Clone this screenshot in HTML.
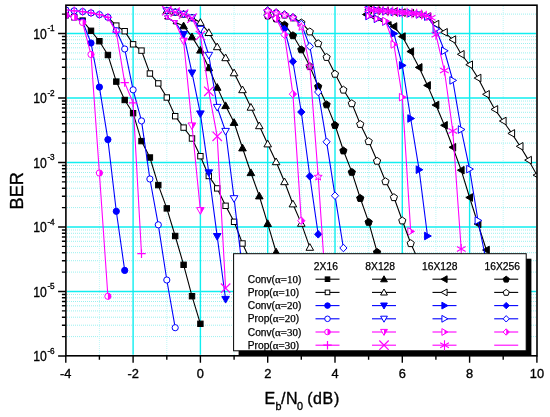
<!DOCTYPE html>
<html><head><meta charset="utf-8"><title>BER vs Eb/N0</title>
<style>html,body{margin:0;padding:0;background:#fff;width:550px;height:417px;overflow:hidden;position:relative}
svg text{stroke:#000;stroke-width:0.35px}
svg text.lg{stroke-width:0.25px}
svg{filter:blur(0.3px)}</style>
</head><body>
<svg width="550" height="417" viewBox="0 0 550 417" style="position:absolute;left:0;top:0">
<defs><clipPath id="rh"><rect x="0" y="-6" width="6" height="12"/></clipPath><clipPath id="plot"><rect x="65.9" y="5.2" width="471.1" height="350.6"/></clipPath></defs>
<rect width="550" height="417" fill="#fff"/>
<path d="M67 336.6H537M67 325.2H537M67 317.2H537M67 310.9H537M67 305.8H537M67 301.5H537M67 297.8H537M67 294.5H537M67 272.1H537M67 260.7H537M67 252.7H537M67 246.4H537M67 241.3H537M67 237H537M67 233.3H537M67 230H537M67 207.6H537M67 196.2H537M67 188.2H537M67 181.9H537M67 176.8H537M67 172.5H537M67 168.8H537M67 165.5H537M67 143.1H537M67 131.7H537M67 123.7H537M67 117.4H537M67 112.3H537M67 108H537M67 104.3H537M67 101H537M67 78.6H537M67 67.2H537M67 59.2H537M67 52.9H537M67 47.8H537M67 43.5H537M67 39.8H537M67 36.5H537M67 14.1H537" stroke="#9cf0f0" stroke-width="1" stroke-dasharray="1 1" fill="none"/>
<path d="M99.4 6V355M166.8 6V355M234.1 6V355M301.3 6V355M368.6 6V355M435.9 6V355M503.2 6V355" stroke="#c0f6f6" stroke-width="1" stroke-dasharray="1 1" fill="none"/>
<path d="M66.9 291.5H536M66.9 227H536M66.9 162.5H536M66.9 98H536M66.9 33.5H536M133.1 6.2V354.8M200.4 6.2V354.8M267.7 6.2V354.8M335 6.2V354.8M402.3 6.2V354.8M469.6 6.2V354.8" stroke="#10eef0" stroke-width="1.4" fill="none"/>
<g clip-path="url(#plot)" fill="none">
<path d="M65.8 15.2 L74.2 17.2 L82.6 20.6 L91 30.8 L99.4 41.2 L107.9 55 L116.3 81.6 L124.7 100 L133.1 113.2 L141.5 141.1 L149.9 157.5 L158.3 185.1 L166.8 208.4 L175.2 236 L183.6 264.8 L192 296.2 L200.4 323.8" stroke="#000" stroke-width="1.1" fill="none"/>
<rect x="63.1" y="12.5" width="5.4" height="5.4" fill="#000" stroke="#000" stroke-width="1"/>
<rect x="71.5" y="14.5" width="5.4" height="5.4" fill="#000" stroke="#000" stroke-width="1"/>
<rect x="79.9" y="17.9" width="5.4" height="5.4" fill="#000" stroke="#000" stroke-width="1"/>
<rect x="88.3" y="28.1" width="5.4" height="5.4" fill="#000" stroke="#000" stroke-width="1"/>
<rect x="96.7" y="38.5" width="5.4" height="5.4" fill="#000" stroke="#000" stroke-width="1"/>
<rect x="105.2" y="52.3" width="5.4" height="5.4" fill="#000" stroke="#000" stroke-width="1"/>
<rect x="113.6" y="78.9" width="5.4" height="5.4" fill="#000" stroke="#000" stroke-width="1"/>
<rect x="122" y="97.3" width="5.4" height="5.4" fill="#000" stroke="#000" stroke-width="1"/>
<rect x="130.4" y="110.5" width="5.4" height="5.4" fill="#000" stroke="#000" stroke-width="1"/>
<rect x="138.8" y="138.4" width="5.4" height="5.4" fill="#000" stroke="#000" stroke-width="1"/>
<rect x="147.2" y="154.8" width="5.4" height="5.4" fill="#000" stroke="#000" stroke-width="1"/>
<rect x="155.6" y="182.4" width="5.4" height="5.4" fill="#000" stroke="#000" stroke-width="1"/>
<rect x="164.1" y="205.7" width="5.4" height="5.4" fill="#000" stroke="#000" stroke-width="1"/>
<rect x="172.5" y="233.3" width="5.4" height="5.4" fill="#000" stroke="#000" stroke-width="1"/>
<rect x="180.9" y="262.1" width="5.4" height="5.4" fill="#000" stroke="#000" stroke-width="1"/>
<rect x="189.3" y="293.5" width="5.4" height="5.4" fill="#000" stroke="#000" stroke-width="1"/>
<rect x="197.7" y="321.1" width="5.4" height="5.4" fill="#000" stroke="#000" stroke-width="1"/>
<path d="M65.8 10 L74.2 10.8 L82.6 11.6 L91 12.9 L99.4 14.6 L107.9 17.3 L116.3 25.6 L124.7 31.2 L133.1 44.3 L141.5 50.6 L149.9 73.5 L158.3 83.4 L166.8 97.5 L175.2 116.2 L183.6 127.6 L192 138.5 L200.4 156.2 L208.8 176 L217.2 188.4 L225.6 205.8 L234.1 221.8 L242.5 243.5 L250.9 262 L259.3 280" stroke="#000" stroke-width="1.1" fill="none"/>
<rect x="63.8" y="8" width="4.1" height="4.1" fill="#fff" stroke="#000" stroke-width="1"/>
<rect x="72.2" y="8.8" width="4.1" height="4.1" fill="#fff" stroke="#000" stroke-width="1"/>
<rect x="80.6" y="9.6" width="4.1" height="4.1" fill="#fff" stroke="#000" stroke-width="1"/>
<rect x="89" y="10.9" width="4.1" height="4.1" fill="#fff" stroke="#000" stroke-width="1"/>
<rect x="97.4" y="12.6" width="4.1" height="4.1" fill="#fff" stroke="#000" stroke-width="1"/>
<rect x="105.8" y="15.3" width="4.1" height="4.1" fill="#fff" stroke="#000" stroke-width="1"/>
<rect x="113.6" y="22.9" width="5.4" height="5.4" fill="#fff" stroke="#000" stroke-width="1"/>
<rect x="122" y="28.5" width="5.4" height="5.4" fill="#fff" stroke="#000" stroke-width="1"/>
<rect x="130.4" y="41.6" width="5.4" height="5.4" fill="#fff" stroke="#000" stroke-width="1"/>
<rect x="138.8" y="47.9" width="5.4" height="5.4" fill="#fff" stroke="#000" stroke-width="1"/>
<rect x="147.2" y="70.8" width="5.4" height="5.4" fill="#fff" stroke="#000" stroke-width="1"/>
<rect x="155.6" y="80.7" width="5.4" height="5.4" fill="#fff" stroke="#000" stroke-width="1"/>
<rect x="164.1" y="94.8" width="5.4" height="5.4" fill="#fff" stroke="#000" stroke-width="1"/>
<rect x="172.5" y="113.5" width="5.4" height="5.4" fill="#fff" stroke="#000" stroke-width="1"/>
<rect x="180.9" y="124.9" width="5.4" height="5.4" fill="#fff" stroke="#000" stroke-width="1"/>
<rect x="189.3" y="135.8" width="5.4" height="5.4" fill="#fff" stroke="#000" stroke-width="1"/>
<rect x="197.7" y="153.5" width="5.4" height="5.4" fill="#fff" stroke="#000" stroke-width="1"/>
<rect x="206.1" y="173.3" width="5.4" height="5.4" fill="#fff" stroke="#000" stroke-width="1"/>
<rect x="214.5" y="185.7" width="5.4" height="5.4" fill="#fff" stroke="#000" stroke-width="1"/>
<rect x="222.9" y="203.1" width="5.4" height="5.4" fill="#fff" stroke="#000" stroke-width="1"/>
<rect x="231.4" y="219.1" width="5.4" height="5.4" fill="#fff" stroke="#000" stroke-width="1"/>
<rect x="239.8" y="240.8" width="5.4" height="5.4" fill="#fff" stroke="#000" stroke-width="1"/>
<rect x="248.2" y="259.3" width="5.4" height="5.4" fill="#fff" stroke="#000" stroke-width="1"/>
<rect x="256.6" y="277.3" width="5.4" height="5.4" fill="#fff" stroke="#000" stroke-width="1"/>
<path d="M65.8 15.2 L74.2 17.2 L82.6 21.5 L91 43 L99.4 87.1 L107.9 139.6 L116.3 211.3 L124.7 270.4" stroke="#0000ff" stroke-width="1.1" fill="none"/>
<circle cx="65.8" cy="15.2" r="3.1" fill="#0000ff" stroke="#0000ff"/>
<circle cx="74.2" cy="17.2" r="3.1" fill="#0000ff" stroke="#0000ff"/>
<circle cx="82.6" cy="21.5" r="3.1" fill="#0000ff" stroke="#0000ff"/>
<circle cx="91" cy="43" r="3.1" fill="#0000ff" stroke="#0000ff"/>
<circle cx="99.4" cy="87.1" r="3.1" fill="#0000ff" stroke="#0000ff"/>
<circle cx="107.9" cy="139.6" r="3.1" fill="#0000ff" stroke="#0000ff"/>
<circle cx="116.3" cy="211.3" r="3.1" fill="#0000ff" stroke="#0000ff"/>
<circle cx="124.7" cy="270.4" r="3.1" fill="#0000ff" stroke="#0000ff"/>
<path d="M65.8 10 L74.2 10.8 L82.6 11.6 L91 12.9 L99.4 14.6 L107.9 17.3 L116.3 30.6 L124.7 49 L133.1 89.8 L141.5 120.9 L149.9 179 L158.3 224.8 L166.8 280 L175.2 327.7" stroke="#0000ff" stroke-width="1.1" fill="none"/>
<circle cx="65.8" cy="10" r="3.1" fill="#fff" stroke="#0000ff"/>
<circle cx="74.2" cy="10.8" r="3.1" fill="#fff" stroke="#0000ff"/>
<circle cx="82.6" cy="11.6" r="3.1" fill="#fff" stroke="#0000ff"/>
<circle cx="91" cy="12.9" r="3.1" fill="#fff" stroke="#0000ff"/>
<circle cx="99.4" cy="14.6" r="3.1" fill="#fff" stroke="#0000ff"/>
<circle cx="107.9" cy="17.3" r="3.1" fill="#fff" stroke="#0000ff"/>
<circle cx="116.3" cy="30.6" r="3.1" fill="#fff" stroke="#0000ff"/>
<circle cx="124.7" cy="49" r="3.1" fill="#fff" stroke="#0000ff"/>
<circle cx="133.1" cy="89.8" r="3.1" fill="#fff" stroke="#0000ff"/>
<circle cx="141.5" cy="120.9" r="3.1" fill="#fff" stroke="#0000ff"/>
<circle cx="149.9" cy="179" r="3.1" fill="#fff" stroke="#0000ff"/>
<circle cx="158.3" cy="224.8" r="3.1" fill="#fff" stroke="#0000ff"/>
<circle cx="166.8" cy="280" r="3.1" fill="#fff" stroke="#0000ff"/>
<circle cx="175.2" cy="327.7" r="3.1" fill="#fff" stroke="#0000ff"/>
<path d="M65.8 15.2 L74.2 17.3 L82.6 22.5 L91 54.5 L99.4 173 L107.9 296.3" stroke="#ff00ff" stroke-width="1.1" fill="none"/>
<circle cx="65.8" cy="15.2" r="3.1" fill="#fff" stroke="#ff00ff"/>
<path d="M65.8 12.1A3.1 3.1 0 0 1 65.8 18.3Z" fill="#ff00ff"/>
<circle cx="74.2" cy="17.3" r="3.1" fill="#fff" stroke="#ff00ff"/>
<path d="M74.2 14.2A3.1 3.1 0 0 1 74.2 20.4Z" fill="#ff00ff"/>
<circle cx="82.6" cy="22.5" r="3.1" fill="#fff" stroke="#ff00ff"/>
<path d="M82.6 19.4A3.1 3.1 0 0 1 82.6 25.6Z" fill="#ff00ff"/>
<circle cx="91" cy="54.5" r="3.1" fill="#fff" stroke="#ff00ff"/>
<path d="M91 51.4A3.1 3.1 0 0 1 91 57.6Z" fill="#ff00ff"/>
<circle cx="99.4" cy="173" r="3.1" fill="#fff" stroke="#ff00ff"/>
<path d="M99.4 169.9A3.1 3.1 0 0 1 99.4 176.1Z" fill="#ff00ff"/>
<circle cx="107.9" cy="296.3" r="3.1" fill="#fff" stroke="#ff00ff"/>
<path d="M107.9 293.2A3.1 3.1 0 0 1 107.9 299.4Z" fill="#ff00ff"/>
<path d="M65.8 10 L74.2 10.8 L82.6 11.6 L91 12.9 L99.4 14.6 L107.9 17.3 L116.3 32.2 L124.7 82.6 L133.1 102.9 L141.5 253.7" stroke="#ff00ff" stroke-width="1.1" fill="none"/>
<path d="M61.6 10h8.4M65.8 5.8v8.4" stroke="#ff00ff" stroke-width="1.2"/>
<path d="M70 10.8h8.4M74.2 6.6v8.4" stroke="#ff00ff" stroke-width="1.2"/>
<path d="M78.4 11.6h8.4M82.6 7.4v8.4" stroke="#ff00ff" stroke-width="1.2"/>
<path d="M86.8 12.9h8.4M91 8.7v8.4" stroke="#ff00ff" stroke-width="1.2"/>
<path d="M95.2 14.6h8.4M99.4 10.4v8.4" stroke="#ff00ff" stroke-width="1.2"/>
<path d="M103.7 17.3h8.4M107.9 13.1v8.4" stroke="#ff00ff" stroke-width="1.2"/>
<path d="M112.1 32.2h8.4M116.3 28v8.4" stroke="#ff00ff" stroke-width="1.2"/>
<path d="M120.5 82.6h8.4M124.7 78.4v8.4" stroke="#ff00ff" stroke-width="1.2"/>
<path d="M128.9 102.9h8.4M133.1 98.7v8.4" stroke="#ff00ff" stroke-width="1.2"/>
<path d="M137.3 253.7h8.4M141.5 249.5v8.4" stroke="#ff00ff" stroke-width="1.2"/>
<path d="M166.8 17.4 L175.2 22.2 L183.6 25.9 L192 36.9 L200.4 50.2 L208.8 67.8 L217.2 87.4 L225.6 105.7 L234.1 122.5 L242.5 148 L250.9 172.7 L259.3 196 L267.7 223.6 L276.1 252" stroke="#000" stroke-width="1.1" fill="none"/>
<polygon points="166.8,15.3 168.8,19 164.7,19" fill="#000" stroke="#000"/>
<polygon points="175.2,20.1 177.3,23.8 173.1,23.8" fill="#000" stroke="#000"/>
<polygon points="183.6,22.1 187.4,28.8 179.8,28.8" fill="#000" stroke="#000"/>
<polygon points="192,33.1 195.8,39.8 188.2,39.8" fill="#000" stroke="#000"/>
<polygon points="200.4,46.4 204.2,53.1 196.6,53.1" fill="#000" stroke="#000"/>
<polygon points="208.8,64 212.6,70.7 205,70.7" fill="#000" stroke="#000"/>
<polygon points="217.2,83.6 221,90.3 213.4,90.3" fill="#000" stroke="#000"/>
<polygon points="225.6,101.9 229.4,108.6 221.8,108.6" fill="#000" stroke="#000"/>
<polygon points="234.1,118.7 237.9,125.4 230.2,125.4" fill="#000" stroke="#000"/>
<polygon points="242.5,144.2 246.3,150.9 238.7,150.9" fill="#000" stroke="#000"/>
<polygon points="250.9,168.9 254.7,175.6 247.1,175.6" fill="#000" stroke="#000"/>
<polygon points="259.3,192.2 263.1,198.9 255.5,198.9" fill="#000" stroke="#000"/>
<polygon points="267.7,219.8 271.5,226.5 263.9,226.5" fill="#000" stroke="#000"/>
<polygon points="276.1,248.2 279.9,254.9 272.3,254.9" fill="#000" stroke="#000"/>
<path d="M166.8 10.7 L175.2 12.2 L183.6 14.2 L192 17.8 L200.4 22.5 L208.8 32.6 L217.2 46.8 L225.6 57.8 L234.1 72.9 L242.5 89.8 L250.9 107.3 L259.3 125.8 L267.7 144 L276.1 161.8 L284.5 181.8 L292.9 204 L301.3 223.4 L309.8 247.4" stroke="#000" stroke-width="1.1" fill="none"/>
<polygon points="166.8,6.9 170.6,13.6 162.9,13.6" fill="#fff" stroke="#000"/>
<polygon points="175.2,8.4 179,15.1 171.4,15.1" fill="#fff" stroke="#000"/>
<polygon points="183.6,10.4 187.4,17.1 179.8,17.1" fill="#fff" stroke="#000"/>
<polygon points="192,14 195.8,20.7 188.2,20.7" fill="#fff" stroke="#000"/>
<polygon points="200.4,18.7 204.2,25.4 196.6,25.4" fill="#fff" stroke="#000"/>
<polygon points="208.8,28.8 212.6,35.5 205,35.5" fill="#fff" stroke="#000"/>
<polygon points="217.2,43 221,49.7 213.4,49.7" fill="#fff" stroke="#000"/>
<polygon points="225.6,54 229.4,60.7 221.8,60.7" fill="#fff" stroke="#000"/>
<polygon points="234.1,69.1 237.9,75.8 230.2,75.8" fill="#fff" stroke="#000"/>
<polygon points="242.5,86 246.3,92.7 238.7,92.7" fill="#fff" stroke="#000"/>
<polygon points="250.9,103.5 254.7,110.2 247.1,110.2" fill="#fff" stroke="#000"/>
<polygon points="259.3,122 263.1,128.7 255.5,128.7" fill="#fff" stroke="#000"/>
<polygon points="267.7,140.2 271.5,146.9 263.9,146.9" fill="#fff" stroke="#000"/>
<polygon points="276.1,158 279.9,164.7 272.3,164.7" fill="#fff" stroke="#000"/>
<polygon points="284.5,178 288.3,184.7 280.7,184.7" fill="#fff" stroke="#000"/>
<polygon points="292.9,200.2 296.7,206.9 289.1,206.9" fill="#fff" stroke="#000"/>
<polygon points="301.3,219.6 305.1,226.3 297.5,226.3" fill="#fff" stroke="#000"/>
<polygon points="309.8,243.6 313.6,250.3 306,250.3" fill="#fff" stroke="#000"/>
<path d="M166.8 17.4 L175.2 22.2 L183.6 34.3 L192 72.9 L200.4 113.8 L208.8 172.7 L217.2 236.4 L225.6 299.3" stroke="#0000ff" stroke-width="1.1" fill="none"/>
<polygon points="166.8,19.5 168.8,15.8 164.7,15.8" fill="#0000ff" stroke="#0000ff"/>
<polygon points="175.2,24.3 177.3,20.6 173.1,20.6" fill="#0000ff" stroke="#0000ff"/>
<polygon points="183.6,38.1 187.4,31.4 179.8,31.4" fill="#0000ff" stroke="#0000ff"/>
<polygon points="192,76.7 195.8,70 188.2,70" fill="#0000ff" stroke="#0000ff"/>
<polygon points="200.4,117.6 204.2,110.9 196.6,110.9" fill="#0000ff" stroke="#0000ff"/>
<polygon points="208.8,176.5 212.6,169.8 205,169.8" fill="#0000ff" stroke="#0000ff"/>
<polygon points="217.2,240.2 221,233.5 213.4,233.5" fill="#0000ff" stroke="#0000ff"/>
<polygon points="225.6,303.1 229.4,296.4 221.8,296.4" fill="#0000ff" stroke="#0000ff"/>
<path d="M166.8 10.7 L175.2 12.2 L183.6 14.2 L192 17.8 L200.4 29.2 L208.8 55.2 L217.2 107.3 L225.6 131.3 L234.1 198.6 L242.5 270" stroke="#0000ff" stroke-width="1.1" fill="none"/>
<polygon points="166.8,14.5 170.6,7.8 162.9,7.8" fill="#fff" stroke="#0000ff"/>
<polygon points="175.2,16 179,9.3 171.4,9.3" fill="#fff" stroke="#0000ff"/>
<polygon points="183.6,18 187.4,11.3 179.8,11.3" fill="#fff" stroke="#0000ff"/>
<polygon points="192,21.6 195.8,14.9 188.2,14.9" fill="#fff" stroke="#0000ff"/>
<polygon points="200.4,33 204.2,26.3 196.6,26.3" fill="#fff" stroke="#0000ff"/>
<polygon points="208.8,59 212.6,52.3 205,52.3" fill="#fff" stroke="#0000ff"/>
<polygon points="217.2,111.1 221,104.4 213.4,104.4" fill="#fff" stroke="#0000ff"/>
<polygon points="225.6,135.1 229.4,128.4 221.8,128.4" fill="#fff" stroke="#0000ff"/>
<polygon points="234.1,202.4 237.9,195.7 230.2,195.7" fill="#fff" stroke="#0000ff"/>
<polygon points="242.5,273.8 246.3,267.1 238.7,267.1" fill="#fff" stroke="#0000ff"/>
<path d="M166.8 17.4 L175.2 22.2 L183.6 41 L192 125.8 L200.4 210.5" stroke="#ff00ff" stroke-width="1.1" fill="none"/>
<polygon points="166.8,19.5 168.8,15.8 164.7,15.8" fill="#fff" stroke="#ff00ff"/>
<polygon points="0,2.1 2.1,-1.6 -2.1,-1.6" fill="#ff00ff" clip-path="url(#rh)" transform="translate(166.8 17.4)"/>
<polygon points="175.2,24.3 177.3,20.6 173.1,20.6" fill="#fff" stroke="#ff00ff"/>
<polygon points="0,2.1 2.1,-1.6 -2.1,-1.6" fill="#ff00ff" clip-path="url(#rh)" transform="translate(175.2 22.2)"/>
<polygon points="183.6,44.8 187.4,38.1 179.8,38.1" fill="#fff" stroke="#ff00ff"/>
<polygon points="0,3.8 3.8,-2.9 -3.8,-2.9" fill="#ff00ff" clip-path="url(#rh)" transform="translate(183.6 41)"/>
<polygon points="192,129.6 195.8,122.9 188.2,122.9" fill="#fff" stroke="#ff00ff"/>
<polygon points="0,3.8 3.8,-2.9 -3.8,-2.9" fill="#ff00ff" clip-path="url(#rh)" transform="translate(192 125.8)"/>
<polygon points="200.4,214.3 204.2,207.6 196.6,207.6" fill="#fff" stroke="#ff00ff"/>
<polygon points="0,3.8 3.8,-2.9 -3.8,-2.9" fill="#ff00ff" clip-path="url(#rh)" transform="translate(200.4 210.5)"/>
<path d="M166.8 10.7 L175.2 12.2 L183.6 14.2 L192 18.2 L200.4 35.5 L208.8 91.3 L217.2 136.3 L225.6 288.2" stroke="#ff00ff" stroke-width="1.1" fill="none"/>
<path d="M162.1 6l9.4 9.4M162.1 15.4l9.4 -9.4" stroke="#ff00ff" stroke-width="1.2"/>
<path d="M170.5 7.5l9.4 9.4M170.5 16.9l9.4 -9.4" stroke="#ff00ff" stroke-width="1.2"/>
<path d="M178.9 9.5l9.4 9.4M178.9 18.9l9.4 -9.4" stroke="#ff00ff" stroke-width="1.2"/>
<path d="M187.3 13.5l9.4 9.4M187.3 22.9l9.4 -9.4" stroke="#ff00ff" stroke-width="1.2"/>
<path d="M195.7 30.8l9.4 9.4M195.7 40.2l9.4 -9.4" stroke="#ff00ff" stroke-width="1.2"/>
<path d="M204.1 86.6l9.4 9.4M204.1 96l9.4 -9.4" stroke="#ff00ff" stroke-width="1.2"/>
<path d="M212.5 131.6l9.4 9.4M212.5 141l9.4 -9.4" stroke="#ff00ff" stroke-width="1.2"/>
<path d="M220.9 283.5l9.4 9.4M220.9 292.9l9.4 -9.4" stroke="#ff00ff" stroke-width="1.2"/>
<path d="M364.4 14.5 L368.6 16 L372.9 17.3 L377.1 18.8 L381.3 20.2 L385.5 21.5 L389.7 23.5 L393.9 26.5 L402.3 36.6 L410.7 51.5 L419.1 67.4 L427.5 85.4 L435.9 105 L444.4 125.3 L452.8 147.3 L461.2 170.2 L469.6 197.5 L478 224 L486.4 250" stroke="#000" stroke-width="1.1" fill="none"/>
<polygon points="362.5,14.5 365.9,12.6 365.9,16.4" fill="#000" stroke="#000"/>
<polygon points="366.8,16 370.1,14.1 370.1,17.9" fill="#000" stroke="#000"/>
<polygon points="371,17.3 374.3,15.4 374.3,19.2" fill="#000" stroke="#000"/>
<polygon points="375.2,18.8 378.5,16.9 378.5,20.7" fill="#000" stroke="#000"/>
<polygon points="379.4,20.2 382.7,18.3 382.7,22.1" fill="#000" stroke="#000"/>
<polygon points="383.6,21.5 386.9,19.6 386.9,23.4" fill="#000" stroke="#000"/>
<polygon points="387.8,23.5 391.1,21.6 391.1,25.4" fill="#000" stroke="#000"/>
<polygon points="390.1,26.5 396.8,22.7 396.8,30.3" fill="#000" stroke="#000"/>
<polygon points="398.5,36.6 405.2,32.8 405.2,40.4" fill="#000" stroke="#000"/>
<polygon points="406.9,51.5 413.6,47.7 413.6,55.3" fill="#000" stroke="#000"/>
<polygon points="415.3,67.4 422,63.6 422,71.2" fill="#000" stroke="#000"/>
<polygon points="423.7,85.4 430.4,81.6 430.4,89.2" fill="#000" stroke="#000"/>
<polygon points="432.1,105 438.8,101.2 438.8,108.8" fill="#000" stroke="#000"/>
<polygon points="440.6,125.3 447.3,121.5 447.3,129.1" fill="#000" stroke="#000"/>
<polygon points="449,147.3 455.7,143.5 455.7,151.1" fill="#000" stroke="#000"/>
<polygon points="457.4,170.2 464.1,166.4 464.1,174" fill="#000" stroke="#000"/>
<polygon points="465.8,197.5 472.5,193.7 472.5,201.3" fill="#000" stroke="#000"/>
<polygon points="474.2,224 480.9,220.2 480.9,227.8" fill="#000" stroke="#000"/>
<polygon points="482.6,250 489.3,246.2 489.3,253.8" fill="#000" stroke="#000"/>
<path d="M368.6 9.8 L377.1 10.6 L385.5 11.2 L393.9 11.8 L402.3 12.6 L410.7 13.2 L419.1 14.4 L427.5 16.6 L435.9 24.1 L444.4 32.3 L452.8 39.6 L461.2 54.3 L469.6 64.7 L478 78 L486.4 94.3 L494.8 109.4 L503.2 121 L511.7 133.4 L520.1 146.3 L528.5 160.1 L536.9 175.1" stroke="#000" stroke-width="1.1" fill="none"/>
<polygon points="364.8,9.8 371.5,6 371.5,13.6" fill="#fff" stroke="#000"/>
<polygon points="373.3,10.6 380,6.8 380,14.4" fill="#fff" stroke="#000"/>
<polygon points="381.7,11.2 388.4,7.4 388.4,15" fill="#fff" stroke="#000"/>
<polygon points="390.1,11.8 396.8,8 396.8,15.6" fill="#fff" stroke="#000"/>
<polygon points="398.5,12.6 405.2,8.8 405.2,16.4" fill="#fff" stroke="#000"/>
<polygon points="406.9,13.2 413.6,9.4 413.6,17" fill="#fff" stroke="#000"/>
<polygon points="415.3,14.4 422,10.6 422,18.2" fill="#fff" stroke="#000"/>
<polygon points="423.7,16.6 430.4,12.8 430.4,20.4" fill="#fff" stroke="#000"/>
<polygon points="432.1,24.1 438.8,20.3 438.8,27.9" fill="#fff" stroke="#000"/>
<polygon points="440.6,32.3 447.3,28.5 447.3,36.1" fill="#fff" stroke="#000"/>
<polygon points="449,39.6 455.7,35.8 455.7,43.4" fill="#fff" stroke="#000"/>
<polygon points="457.4,54.3 464.1,50.5 464.1,58.1" fill="#fff" stroke="#000"/>
<polygon points="465.8,64.7 472.5,60.9 472.5,68.5" fill="#fff" stroke="#000"/>
<polygon points="474.2,78 480.9,74.2 480.9,81.8" fill="#fff" stroke="#000"/>
<polygon points="482.6,94.3 489.3,90.5 489.3,98.1" fill="#fff" stroke="#000"/>
<polygon points="491,109.4 497.7,105.6 497.7,113.2" fill="#fff" stroke="#000"/>
<polygon points="499.4,121 506.1,117.2 506.1,124.8" fill="#fff" stroke="#000"/>
<polygon points="507.9,133.4 514.6,129.6 514.6,137.2" fill="#fff" stroke="#000"/>
<polygon points="516.3,146.3 523,142.5 523,150.1" fill="#fff" stroke="#000"/>
<polygon points="524.7,160.1 531.4,156.3 531.4,163.9" fill="#fff" stroke="#000"/>
<polygon points="533.1,175.1 539.8,171.3 539.8,178.9" fill="#fff" stroke="#000"/>
<path d="M368.6 16 L377.1 18.8 L385.5 21.5 L393.9 33.6 L402.3 65.4 L410.7 118.5 L419.1 169.7 L427.5 236" stroke="#0000ff" stroke-width="1.1" fill="none"/>
<polygon points="372.4,16 365.8,12.2 365.8,19.8" fill="#0000ff" stroke="#0000ff"/>
<polygon points="380.9,18.8 374.2,15 374.2,22.6" fill="#0000ff" stroke="#0000ff"/>
<polygon points="389.3,21.5 382.6,17.7 382.6,25.3" fill="#0000ff" stroke="#0000ff"/>
<polygon points="397.7,33.6 391,29.8 391,37.4" fill="#0000ff" stroke="#0000ff"/>
<polygon points="406.1,65.4 399.4,61.6 399.4,69.2" fill="#0000ff" stroke="#0000ff"/>
<polygon points="414.5,118.5 407.8,114.7 407.8,122.3" fill="#0000ff" stroke="#0000ff"/>
<polygon points="422.9,169.7 416.2,165.9 416.2,173.5" fill="#0000ff" stroke="#0000ff"/>
<polygon points="431.3,236 424.6,232.2 424.6,239.8" fill="#0000ff" stroke="#0000ff"/>
<path d="M368.6 9.8 L377.1 10.6 L385.5 11.2 L393.9 11.8 L402.3 12.6 L410.7 13.2 L419.1 14.4 L427.5 16.6 L435.9 29 L444.4 50.8 L452.8 80.4 L461.2 129.5 L469.6 169.1 L478 220.5 L486.4 262" stroke="#0000ff" stroke-width="1.1" fill="none"/>
<polygon points="372.4,9.8 365.8,6 365.8,13.6" fill="#fff" stroke="#0000ff"/>
<polygon points="380.9,10.6 374.2,6.8 374.2,14.4" fill="#fff" stroke="#0000ff"/>
<polygon points="389.3,11.2 382.6,7.4 382.6,15" fill="#fff" stroke="#0000ff"/>
<polygon points="397.7,11.8 391,8 391,15.6" fill="#fff" stroke="#0000ff"/>
<polygon points="406.1,12.6 399.4,8.8 399.4,16.4" fill="#fff" stroke="#0000ff"/>
<polygon points="414.5,13.2 407.8,9.4 407.8,17" fill="#fff" stroke="#0000ff"/>
<polygon points="422.9,14.4 416.2,10.6 416.2,18.2" fill="#fff" stroke="#0000ff"/>
<polygon points="431.3,16.6 424.6,12.8 424.6,20.4" fill="#fff" stroke="#0000ff"/>
<polygon points="439.8,29 433.1,25.2 433.1,32.8" fill="#fff" stroke="#0000ff"/>
<polygon points="448.2,50.8 441.5,47 441.5,54.6" fill="#fff" stroke="#0000ff"/>
<polygon points="456.6,80.4 449.9,76.6 449.9,84.2" fill="#fff" stroke="#0000ff"/>
<polygon points="465,129.5 458.3,125.7 458.3,133.3" fill="#fff" stroke="#0000ff"/>
<polygon points="473.4,169.1 466.7,165.3 466.7,172.9" fill="#fff" stroke="#0000ff"/>
<polygon points="481.8,220.5 475.1,216.7 475.1,224.3" fill="#fff" stroke="#0000ff"/>
<polygon points="490.2,262 483.5,258.2 483.5,265.8" fill="#fff" stroke="#0000ff"/>
<path d="M368.6 16 L377.1 18.8 L385.5 21.1 L393.9 44.4 L402.3 97.2 L410.7 231.4" stroke="#ff00ff" stroke-width="1.1" fill="none"/>
<polygon points="371.7,16 366.3,13 366.3,19" fill="#fff" stroke="#ff00ff"/>
<polygon points="3,0 -2.3,-3 -2.3,3" fill="#ff00ff" clip-path="url(#rh)" transform="translate(368.6 16)"/>
<polygon points="380.1,18.8 374.7,15.8 374.7,21.8" fill="#fff" stroke="#ff00ff"/>
<polygon points="3,0 -2.3,-3 -2.3,3" fill="#ff00ff" clip-path="url(#rh)" transform="translate(377.1 18.8)"/>
<polygon points="389.3,21.1 382.6,17.3 382.6,24.9" fill="#fff" stroke="#ff00ff"/>
<polygon points="3.8,0 -2.9,-3.8 -2.9,3.8" fill="#ff00ff" clip-path="url(#rh)" transform="translate(385.5 21.1)"/>
<polygon points="397.7,44.4 391,40.6 391,48.2" fill="#fff" stroke="#ff00ff"/>
<polygon points="3.8,0 -2.9,-3.8 -2.9,3.8" fill="#ff00ff" clip-path="url(#rh)" transform="translate(393.9 44.4)"/>
<polygon points="406.1,97.2 399.4,93.4 399.4,101" fill="#fff" stroke="#ff00ff"/>
<polygon points="3.8,0 -2.9,-3.8 -2.9,3.8" fill="#ff00ff" clip-path="url(#rh)" transform="translate(402.3 97.2)"/>
<polygon points="414.5,231.4 407.8,227.6 407.8,235.2" fill="#fff" stroke="#ff00ff"/>
<polygon points="3.8,0 -2.9,-3.8 -2.9,3.8" fill="#ff00ff" clip-path="url(#rh)" transform="translate(410.7 231.4)"/>
<path d="M368.6 9.6 L373.5 10 L378.3 10.4 L383.1 10.8 L387.9 11.2 L392.7 11.6 L397.5 12 L402.3 12.4 L407.1 12.8 L411.9 13.2 L416.7 13.8 L421.5 14.6 L426.3 15.8 L431.1 17.8 L435.9 34.7 L444.4 70.5 L452.8 131 L461.2 249" stroke="#ff00ff" stroke-width="1.1" fill="none"/>
<path d="M368.6 4.6v10M364.3 7.1l8.7 5M364.3 12.1l8.7 -5" stroke="#ff00ff" stroke-width="1.1"/>
<path d="M373.5 5v10M369.1 7.5l8.7 5M369.1 12.5l8.7 -5" stroke="#ff00ff" stroke-width="1.1"/>
<path d="M378.3 5.4v10M373.9 7.9l8.7 5M373.9 12.9l8.7 -5" stroke="#ff00ff" stroke-width="1.1"/>
<path d="M383.1 5.8v10M378.7 8.3l8.7 5M378.7 13.3l8.7 -5" stroke="#ff00ff" stroke-width="1.1"/>
<path d="M387.9 6.2v10M383.5 8.7l8.7 5M383.5 13.7l8.7 -5" stroke="#ff00ff" stroke-width="1.1"/>
<path d="M392.7 6.6v10M388.4 9.1l8.7 5M388.4 14.1l8.7 -5" stroke="#ff00ff" stroke-width="1.1"/>
<path d="M397.5 7v10M393.2 9.5l8.7 5M393.2 14.5l8.7 -5" stroke="#ff00ff" stroke-width="1.1"/>
<path d="M402.3 7.4v10M398 9.9l8.7 5M398 14.9l8.7 -5" stroke="#ff00ff" stroke-width="1.1"/>
<path d="M407.1 7.8v10M402.8 10.3l8.7 5M402.8 15.3l8.7 -5" stroke="#ff00ff" stroke-width="1.1"/>
<path d="M411.9 8.2v10M407.6 10.7l8.7 5M407.6 15.7l8.7 -5" stroke="#ff00ff" stroke-width="1.1"/>
<path d="M416.7 8.8v10M412.4 11.3l8.7 5M412.4 16.3l8.7 -5" stroke="#ff00ff" stroke-width="1.1"/>
<path d="M421.5 9.6v10M417.2 12.1l8.7 5M417.2 17.1l8.7 -5" stroke="#ff00ff" stroke-width="1.1"/>
<path d="M426.3 10.8v10M422 13.3l8.7 5M422 18.3l8.7 -5" stroke="#ff00ff" stroke-width="1.1"/>
<path d="M431.1 12.8v10M426.8 15.3l8.7 5M426.8 20.3l8.7 -5" stroke="#ff00ff" stroke-width="1.1"/>
<path d="M435.9 29.7v10M431.6 32.2l8.7 5M431.6 37.2l8.7 -5" stroke="#ff00ff" stroke-width="1.1"/>
<path d="M444.4 65.5v10M440 68l8.7 5M440 73l8.7 -5" stroke="#ff00ff" stroke-width="1.1"/>
<path d="M452.8 126v10M448.4 128.5l8.7 5M448.4 133.5l8.7 -5" stroke="#ff00ff" stroke-width="1.1"/>
<path d="M461.2 244v10M456.9 246.5l8.7 5M456.9 251.5l8.7 -5" stroke="#ff00ff" stroke-width="1.1"/>
<path d="M267.7 15.5 L276.1 18.4 L284.5 24.7 L292.9 35.3 L301.3 49.4 L309.8 66.2 L318.2 86.3 L326.6 104.4 L335 125 L343.4 150.5 L351.8 171.9 L360.2 198 L368.6 221.9 L377.1 252" stroke="#000" stroke-width="1.1" fill="none"/>
<polygon points="267.7,12 271.3,14.6 269.9,18.9 265.5,18.9 264.1,14.6" fill="#000" stroke="#000"/>
<polygon points="276.1,14.9 279.7,17.5 278.3,21.8 273.9,21.8 272.5,17.5" fill="#000" stroke="#000"/>
<polygon points="284.5,21.2 288.1,23.8 286.8,28.1 282.3,28.1 280.9,23.8" fill="#000" stroke="#000"/>
<polygon points="292.9,31.8 296.6,34.4 295.2,38.7 290.7,38.7 289.3,34.4" fill="#000" stroke="#000"/>
<polygon points="301.3,45.9 305,48.5 303.6,52.8 299.1,52.8 297.7,48.5" fill="#000" stroke="#000"/>
<polygon points="309.8,62.7 313.4,65.3 312,69.6 307.5,69.6 306.1,65.3" fill="#000" stroke="#000"/>
<polygon points="318.2,82.8 321.8,85.4 320.4,89.7 315.9,89.7 314.6,85.4" fill="#000" stroke="#000"/>
<polygon points="326.6,100.9 330.2,103.5 328.8,107.8 324.4,107.8 323,103.5" fill="#000" stroke="#000"/>
<polygon points="335,121.5 338.6,124.1 337.2,128.4 332.8,128.4 331.4,124.1" fill="#000" stroke="#000"/>
<polygon points="343.4,147 347,149.6 345.6,153.9 341.2,153.9 339.8,149.6" fill="#000" stroke="#000"/>
<polygon points="351.8,168.4 355.4,171 354.1,175.3 349.6,175.3 348.2,171" fill="#000" stroke="#000"/>
<polygon points="360.2,194.5 363.9,197.1 362.5,201.4 358,201.4 356.6,197.1" fill="#000" stroke="#000"/>
<polygon points="368.6,218.4 372.3,221 370.9,225.3 366.4,225.3 365,221" fill="#000" stroke="#000"/>
<polygon points="377.1,248.5 380.7,251.1 379.3,255.4 374.8,255.4 373.4,251.1" fill="#000" stroke="#000"/>
<path d="M267.7 10.7 L276.1 12.6 L284.5 14.6 L292.9 17.4 L301.3 22.5 L309.8 31.5 L318.2 43.3 L326.6 57 L335 73.8 L343.4 89.7 L351.8 103.3 L360.2 124 L368.6 141.2 L377.1 160.8 L385.5 181.3 L393.9 197.2 L402.3 220.5 L410.7 243.2 L419.1 262" stroke="#000" stroke-width="1.1" fill="none"/>
<polygon points="267.7,7.2 271.3,9.8 269.9,14.1 265.5,14.1 264.1,9.8" fill="#fff" stroke="#000"/>
<polygon points="276.1,9.1 279.7,11.7 278.3,16 273.9,16 272.5,11.7" fill="#fff" stroke="#000"/>
<polygon points="284.5,11.1 288.1,13.7 286.8,18 282.3,18 280.9,13.7" fill="#fff" stroke="#000"/>
<polygon points="292.9,13.9 296.6,16.5 295.2,20.8 290.7,20.8 289.3,16.5" fill="#fff" stroke="#000"/>
<polygon points="301.3,19 305,21.6 303.6,25.9 299.1,25.9 297.7,21.6" fill="#fff" stroke="#000"/>
<polygon points="309.8,28 313.4,30.6 312,34.9 307.5,34.9 306.1,30.6" fill="#fff" stroke="#000"/>
<polygon points="318.2,39.8 321.8,42.4 320.4,46.7 315.9,46.7 314.6,42.4" fill="#fff" stroke="#000"/>
<polygon points="326.6,53.5 330.2,56.1 328.8,60.4 324.4,60.4 323,56.1" fill="#fff" stroke="#000"/>
<polygon points="335,70.3 338.6,72.9 337.2,77.2 332.8,77.2 331.4,72.9" fill="#fff" stroke="#000"/>
<polygon points="343.4,86.2 347,88.8 345.6,93.1 341.2,93.1 339.8,88.8" fill="#fff" stroke="#000"/>
<polygon points="351.8,99.8 355.4,102.4 354.1,106.7 349.6,106.7 348.2,102.4" fill="#fff" stroke="#000"/>
<polygon points="360.2,120.5 363.9,123.1 362.5,127.4 358,127.4 356.6,123.1" fill="#fff" stroke="#000"/>
<polygon points="368.6,137.7 372.3,140.3 370.9,144.6 366.4,144.6 365,140.3" fill="#fff" stroke="#000"/>
<polygon points="377.1,157.3 380.7,159.9 379.3,164.2 374.8,164.2 373.4,159.9" fill="#fff" stroke="#000"/>
<polygon points="385.5,177.8 389.1,180.4 387.7,184.7 383.2,184.7 381.9,180.4" fill="#fff" stroke="#000"/>
<polygon points="393.9,193.7 397.5,196.3 396.1,200.6 391.7,200.6 390.3,196.3" fill="#fff" stroke="#000"/>
<polygon points="402.3,217 405.9,219.6 404.5,223.9 400.1,223.9 398.7,219.6" fill="#fff" stroke="#000"/>
<polygon points="410.7,239.7 414.3,242.3 412.9,246.6 408.5,246.6 407.1,242.3" fill="#fff" stroke="#000"/>
<polygon points="419.1,258.5 422.7,261.1 421.4,265.4 416.9,265.4 415.5,261.1" fill="#fff" stroke="#000"/>
<path d="M267.7 15.5 L276.1 18.4 L284.5 29 L292.9 61.5 L301.3 112 L309.8 176.3 L318.2 234.3" stroke="#0000ff" stroke-width="1.1" fill="none"/>
<polygon points="267.7,11.7 271.3,15.5 267.7,19.3 264.1,15.5" fill="#0000ff" stroke="#0000ff"/>
<polygon points="276.1,14.6 279.7,18.4 276.1,22.2 272.5,18.4" fill="#0000ff" stroke="#0000ff"/>
<polygon points="284.5,25.2 288.1,29 284.5,32.8 280.9,29" fill="#0000ff" stroke="#0000ff"/>
<polygon points="292.9,57.7 296.5,61.5 292.9,65.3 289.3,61.5" fill="#0000ff" stroke="#0000ff"/>
<polygon points="301.3,108.2 304.9,112 301.3,115.8 297.7,112" fill="#0000ff" stroke="#0000ff"/>
<polygon points="309.8,172.5 313.4,176.3 309.8,180.1 306.2,176.3" fill="#0000ff" stroke="#0000ff"/>
<polygon points="318.2,230.5 321.8,234.3 318.2,238.1 314.6,234.3" fill="#0000ff" stroke="#0000ff"/>
<path d="M267.7 10.7 L276.1 12.6 L284.5 14.6 L292.9 17.4 L301.3 24.1 L309.8 46.4 L318.2 92 L326.6 141.8 L335 195.7 L343.4 248" stroke="#0000ff" stroke-width="1.1" fill="none"/>
<polygon points="267.7,6.9 271.3,10.7 267.7,14.5 264.1,10.7" fill="#fff" stroke="#0000ff"/>
<polygon points="276.1,8.8 279.7,12.6 276.1,16.4 272.5,12.6" fill="#fff" stroke="#0000ff"/>
<polygon points="284.5,10.8 288.1,14.6 284.5,18.4 280.9,14.6" fill="#fff" stroke="#0000ff"/>
<polygon points="292.9,13.6 296.5,17.4 292.9,21.2 289.3,17.4" fill="#fff" stroke="#0000ff"/>
<polygon points="301.3,20.3 304.9,24.1 301.3,27.9 297.7,24.1" fill="#fff" stroke="#0000ff"/>
<polygon points="309.8,42.6 313.4,46.4 309.8,50.2 306.2,46.4" fill="#fff" stroke="#0000ff"/>
<polygon points="318.2,88.2 321.8,92 318.2,95.8 314.6,92" fill="#fff" stroke="#0000ff"/>
<polygon points="326.6,138 330.2,141.8 326.6,145.6 323,141.8" fill="#fff" stroke="#0000ff"/>
<polygon points="335,191.9 338.6,195.7 335,199.5 331.4,195.7" fill="#fff" stroke="#0000ff"/>
<polygon points="343.4,244.2 347,248 343.4,251.8 339.8,248" fill="#fff" stroke="#0000ff"/>
<path d="M267.7 15.5 L276.1 18.4 L284.5 34.7 L292.9 94.1 L301.3 220.7" stroke="#ff00ff" stroke-width="1.1" fill="none"/>
<polygon points="267.7,11.7 271.3,15.5 267.7,19.3 264.1,15.5" fill="#fff" stroke="#ff00ff"/>
<polygon points="0,-3.8 3.6,0 0,3.8 -3.6,0" fill="#ff00ff" clip-path="url(#rh)" transform="translate(267.7 15.5)"/>
<polygon points="276.1,14.6 279.7,18.4 276.1,22.2 272.5,18.4" fill="#fff" stroke="#ff00ff"/>
<polygon points="0,-3.8 3.6,0 0,3.8 -3.6,0" fill="#ff00ff" clip-path="url(#rh)" transform="translate(276.1 18.4)"/>
<polygon points="284.5,30.9 288.1,34.7 284.5,38.5 280.9,34.7" fill="#fff" stroke="#ff00ff"/>
<polygon points="0,-3.8 3.6,0 0,3.8 -3.6,0" fill="#ff00ff" clip-path="url(#rh)" transform="translate(284.5 34.7)"/>
<polygon points="292.9,90.3 296.5,94.1 292.9,97.9 289.3,94.1" fill="#fff" stroke="#ff00ff"/>
<polygon points="0,-3.8 3.6,0 0,3.8 -3.6,0" fill="#ff00ff" clip-path="url(#rh)" transform="translate(292.9 94.1)"/>
<polygon points="301.3,216.9 304.9,220.7 301.3,224.5 297.7,220.7" fill="#fff" stroke="#ff00ff"/>
<polygon points="0,-3.8 3.6,0 0,3.8 -3.6,0" fill="#ff00ff" clip-path="url(#rh)" transform="translate(301.3 220.7)"/>
<path d="M267.7 10.7 L276.1 12.6 L284.5 14.6 L292.9 17.4 L301.3 26.5 L309.8 66 L318.2 176.3 L326.6 300" stroke="#ff00ff" stroke-width="1.1" fill="none"/>
<polygon points="267.7,6.9 268.8,9.6 271.7,9.8 269.4,11.7 270.2,14.5 267.7,12.9 265.2,14.5 266,11.7 263.7,9.8 266.6,9.6" fill="#fff" fill-opacity="0.5" stroke="#ff00ff" stroke-width="1"/>
<polygon points="276.1,8.8 277.2,11.5 280.1,11.7 277.8,13.6 278.6,16.4 276.1,14.8 273.6,16.4 274.4,13.6 272.1,11.7 275.1,11.5" fill="#fff" fill-opacity="0.5" stroke="#ff00ff" stroke-width="1"/>
<polygon points="284.5,10.8 285.6,13.5 288.5,13.7 286.2,15.6 287,18.4 284.5,16.8 282.1,18.4 282.8,15.6 280.5,13.7 283.5,13.5" fill="#fff" fill-opacity="0.5" stroke="#ff00ff" stroke-width="1"/>
<polygon points="292.9,13.6 294,16.3 296.9,16.5 294.6,18.4 295.4,21.2 292.9,19.6 290.5,21.2 291.2,18.4 288.9,16.5 291.9,16.3" fill="#fff" fill-opacity="0.5" stroke="#ff00ff" stroke-width="1"/>
<polygon points="301.3,22.7 302.4,25.4 305.3,25.6 303.1,27.5 303.8,30.3 301.3,28.7 298.9,30.3 299.6,27.5 297.4,25.6 300.3,25.4" fill="#fff" fill-opacity="0.5" stroke="#ff00ff" stroke-width="1"/>
<polygon points="309.8,62.2 310.8,64.9 313.8,65.1 311.5,67 312.2,69.8 309.8,68.2 307.3,69.8 308.1,67 305.8,65.1 308.7,64.9" fill="#fff" fill-opacity="0.5" stroke="#ff00ff" stroke-width="1"/>
<polygon points="318.2,172.5 319.2,175.2 322.2,175.4 319.9,177.3 320.6,180.1 318.2,178.5 315.7,180.1 316.5,177.3 314.2,175.4 317.1,175.2" fill="#fff" fill-opacity="0.5" stroke="#ff00ff" stroke-width="1"/>
<polygon points="326.6,296.2 327.6,298.9 330.6,299.1 328.3,301 329.1,303.8 326.6,302.2 324.1,303.8 324.9,301 322.6,299.1 325.5,298.9" fill="#fff" fill-opacity="0.5" stroke="#ff00ff" stroke-width="1"/>
</g>
<rect x="238.6" y="258.7" width="292.8" height="97.3" fill="#000"/>
<rect x="233.6" y="253.7" width="292.6" height="97.1" fill="#fff" stroke="#000" stroke-width="1"/>
<text class="lg" x="325.9" y="270" font-family="Liberation Sans, Arial, sans-serif" font-size="10.3" text-anchor="middle">2X16</text>
<path d="M315.5 279.2H339.5" stroke="#000" stroke-width="1.1"/>
<rect x="325.2" y="276.9" width="4.6" height="4.6" fill="#000" stroke="#000" stroke-width="1"/>
<path d="M315.5 292.4H339.5" stroke="#000" stroke-width="1.1"/>
<rect x="325.2" y="290.1" width="4.6" height="4.6" fill="#fff" stroke="#000" stroke-width="1"/>
<path d="M315.5 305.6H339.5" stroke="#0000ff" stroke-width="1.1"/>
<circle cx="327.5" cy="305.6" r="2.79" fill="#0000ff" stroke="#0000ff"/>
<path d="M315.5 318.8H339.5" stroke="#0000ff" stroke-width="1.1"/>
<circle cx="327.5" cy="318.8" r="2.79" fill="#fff" stroke="#0000ff"/>
<path d="M315.5 332H339.5" stroke="#ff00ff" stroke-width="1.1"/>
<circle cx="327.5" cy="332" r="2.79" fill="#fff" stroke="#ff00ff"/>
<path d="M327.5 329.2A2.79 2.79 0 0 1 327.5 334.8Z" fill="#ff00ff"/>
<path d="M315.5 345.2H339.5" stroke="#ff00ff" stroke-width="1.1"/>
<path d="M323.3 345.2h8.4M327.5 341v8.4" stroke="#ff00ff" stroke-width="1.2"/>
<text class="lg" x="380.2" y="270" font-family="Liberation Sans, Arial, sans-serif" font-size="10.3" text-anchor="middle">8X128</text>
<path d="M372 279.2H396" stroke="#000" stroke-width="1.1"/>
<polygon points="384,275.8 387.4,281.8 380.6,281.8" fill="#000" stroke="#000"/>
<path d="M372 292.4H396" stroke="#000" stroke-width="1.1"/>
<polygon points="384,289 387.4,295 380.6,295" fill="#fff" stroke="#000"/>
<path d="M372 305.6H396" stroke="#0000ff" stroke-width="1.1"/>
<polygon points="384,309 387.4,303 380.6,303" fill="#0000ff" stroke="#0000ff"/>
<path d="M372 318.8H396" stroke="#0000ff" stroke-width="1.1"/>
<polygon points="384,322.2 387.4,316.2 380.6,316.2" fill="#fff" stroke="#0000ff"/>
<path d="M372 332H396" stroke="#ff00ff" stroke-width="1.1"/>
<polygon points="384,335.4 387.4,329.4 380.6,329.4" fill="#fff" stroke="#ff00ff"/>
<polygon points="0,3.4 3.4,-2.6 -3.4,-2.6" fill="#ff00ff" clip-path="url(#rh)" transform="translate(384 332)"/>
<path d="M372 345.2H396" stroke="#ff00ff" stroke-width="1.1"/>
<path d="M379.3 340.5l9.4 9.4M379.3 349.9l9.4 -9.4" stroke="#ff00ff" stroke-width="1.2"/>
<text class="lg" x="439.7" y="270" font-family="Liberation Sans, Arial, sans-serif" font-size="10.3" text-anchor="middle">16X128</text>
<path d="M432.5 279.2H456.5" stroke="#000" stroke-width="1.1"/>
<polygon points="441.1,279.2 447.1,275.8 447.1,282.6" fill="#000" stroke="#000"/>
<path d="M432.5 292.4H456.5" stroke="#000" stroke-width="1.1"/>
<polygon points="441.1,292.4 447.1,289 447.1,295.8" fill="#fff" stroke="#000"/>
<path d="M432.5 305.6H456.5" stroke="#0000ff" stroke-width="1.1"/>
<polygon points="447.9,305.6 441.9,302.2 441.9,309" fill="#0000ff" stroke="#0000ff"/>
<path d="M432.5 318.8H456.5" stroke="#0000ff" stroke-width="1.1"/>
<polygon points="447.9,318.8 441.9,315.4 441.9,322.2" fill="#fff" stroke="#0000ff"/>
<path d="M432.5 332H456.5" stroke="#ff00ff" stroke-width="1.1"/>
<polygon points="447.9,332 441.9,328.6 441.9,335.4" fill="#fff" stroke="#ff00ff"/>
<polygon points="3.4,0 -2.6,-3.4 -2.6,3.4" fill="#ff00ff" clip-path="url(#rh)" transform="translate(444.5 332)"/>
<path d="M432.5 345.2H456.5" stroke="#ff00ff" stroke-width="1.1"/>
<path d="M444.5 340.2v10M440.2 342.7l8.7 5M440.2 347.7l8.7 -5" stroke="#ff00ff" stroke-width="1.1"/>
<text class="lg" x="502.2" y="270" font-family="Liberation Sans, Arial, sans-serif" font-size="10.3" text-anchor="middle">16X256</text>
<path d="M494.2 279.2H518.2" stroke="#000" stroke-width="1.1"/>
<polygon points="506.2,276.2 509.3,278.5 508.1,282.1 504.3,282.1 503.1,278.5" fill="#000" stroke="#000"/>
<path d="M494.2 292.4H518.2" stroke="#000" stroke-width="1.1"/>
<polygon points="506.2,289.4 509.3,291.7 508.1,295.3 504.3,295.3 503.1,291.7" fill="#fff" stroke="#000"/>
<path d="M494.2 305.6H518.2" stroke="#0000ff" stroke-width="1.1"/>
<polygon points="506.2,302.4 509.3,305.6 506.2,308.8 503.1,305.6" fill="#0000ff" stroke="#0000ff"/>
<path d="M494.2 318.8H518.2" stroke="#0000ff" stroke-width="1.1"/>
<polygon points="506.2,315.6 509.3,318.8 506.2,322 503.1,318.8" fill="#fff" stroke="#0000ff"/>
<path d="M494.2 332H518.2" stroke="#ff00ff" stroke-width="1.1"/>
<polygon points="506.2,328.8 509.3,332 506.2,335.2 503.1,332" fill="#fff" stroke="#ff00ff"/>
<polygon points="0,-3.2 3.1,0 0,3.2 -3.1,0" fill="#ff00ff" clip-path="url(#rh)" transform="translate(506.2 332)"/>
<path d="M494.2 345.2H518.2" stroke="#ff00ff" stroke-width="1.1"/>
<text class="lg" x="247.8" y="282.8" font-family="Liberation Sans, Arial, sans-serif" font-size="10.2">Conv(<tspan font-family="Liberation Serif, Times New Roman, serif" font-size="11">&#945;=10</tspan>)</text>
<text class="lg" x="247.8" y="296" font-family="Liberation Sans, Arial, sans-serif" font-size="10.2">Prop(<tspan font-family="Liberation Serif, Times New Roman, serif" font-size="11">&#945;=10</tspan>)</text>
<text class="lg" x="247.8" y="309.2" font-family="Liberation Sans, Arial, sans-serif" font-size="10.2">Conv(<tspan font-family="Liberation Serif, Times New Roman, serif" font-size="11">&#945;=20</tspan>)</text>
<text class="lg" x="247.8" y="322.4" font-family="Liberation Sans, Arial, sans-serif" font-size="10.2">Prop(<tspan font-family="Liberation Serif, Times New Roman, serif" font-size="11">&#945;=20</tspan>)</text>
<text class="lg" x="247.8" y="335.6" font-family="Liberation Sans, Arial, sans-serif" font-size="10.2">Conv(<tspan font-family="Liberation Serif, Times New Roman, serif" font-size="11">&#945;=30</tspan>)</text>
<text class="lg" x="247.8" y="348.8" font-family="Liberation Sans, Arial, sans-serif" font-size="10.2">Prop(<tspan font-family="Liberation Serif, Times New Roman, serif" font-size="11">&#945;=30</tspan>)</text>
<rect x="65.9" y="5.2" width="471.1" height="350.6" fill="none" stroke="#000" stroke-width="1.6"/>
<path d="M65.8 355.8v7M99.4 355.8v4M133.1 355.8v7M166.8 355.8v4M200.4 355.8v7M234.1 355.8v4M267.7 355.8v7M301.3 355.8v4M335 355.8v7M368.6 355.8v4M402.3 355.8v7M435.9 355.8v4M469.6 355.8v7M503.2 355.8v4M536.9 355.8v7M65.9 356h-7.8M65.9 336.6h-4M65.9 325.2h-4M65.9 317.2h-4M65.9 310.9h-4M65.9 305.8h-4M65.9 301.5h-4M65.9 297.8h-4M65.9 294.5h-4M65.9 291.5h-7.8M65.9 272.1h-4M65.9 260.7h-4M65.9 252.7h-4M65.9 246.4h-4M65.9 241.3h-4M65.9 237h-4M65.9 233.3h-4M65.9 230h-4M65.9 227h-7.8M65.9 207.6h-4M65.9 196.2h-4M65.9 188.2h-4M65.9 181.9h-4M65.9 176.8h-4M65.9 172.5h-4M65.9 168.8h-4M65.9 165.5h-4M65.9 162.5h-7.8M65.9 143.1h-4M65.9 131.7h-4M65.9 123.7h-4M65.9 117.4h-4M65.9 112.3h-4M65.9 108h-4M65.9 104.3h-4M65.9 101h-4M65.9 98h-7.8M65.9 78.6h-4M65.9 67.2h-4M65.9 59.2h-4M65.9 52.9h-4M65.9 47.8h-4M65.9 43.5h-4M65.9 39.8h-4M65.9 36.5h-4M65.9 33.5h-7.8M65.9 14.1h-4" stroke="#000" stroke-width="1.4"/>
<text x="65.8" y="377.6" font-family="Liberation Sans, Arial, sans-serif" font-size="12.8" text-anchor="middle">-4</text>
<text x="133.1" y="377.6" font-family="Liberation Sans, Arial, sans-serif" font-size="12.8" text-anchor="middle">-2</text>
<text x="200.4" y="377.6" font-family="Liberation Sans, Arial, sans-serif" font-size="12.8" text-anchor="middle">0</text>
<text x="267.7" y="377.6" font-family="Liberation Sans, Arial, sans-serif" font-size="12.8" text-anchor="middle">2</text>
<text x="335" y="377.6" font-family="Liberation Sans, Arial, sans-serif" font-size="12.8" text-anchor="middle">4</text>
<text x="402.3" y="377.6" font-family="Liberation Sans, Arial, sans-serif" font-size="12.8" text-anchor="middle">6</text>
<text x="469.6" y="377.6" font-family="Liberation Sans, Arial, sans-serif" font-size="12.8" text-anchor="middle">8</text>
<text x="536.9" y="377.6" font-family="Liberation Sans, Arial, sans-serif" font-size="12.8" text-anchor="middle">10</text>
<text transform="translate(33.3 38.6) scale(0.87 1)" font-family="Liberation Sans, Arial, sans-serif" font-size="14">10</text>
<text x="47.4" y="31.2" font-family="Liberation Sans, Arial, sans-serif" font-size="8.2">-1</text>
<text transform="translate(33.3 103.1) scale(0.87 1)" font-family="Liberation Sans, Arial, sans-serif" font-size="14">10</text>
<text x="47.4" y="95.7" font-family="Liberation Sans, Arial, sans-serif" font-size="8.2">-2</text>
<text transform="translate(33.3 167.6) scale(0.87 1)" font-family="Liberation Sans, Arial, sans-serif" font-size="14">10</text>
<text x="47.4" y="160.2" font-family="Liberation Sans, Arial, sans-serif" font-size="8.2">-3</text>
<text transform="translate(33.3 232.1) scale(0.87 1)" font-family="Liberation Sans, Arial, sans-serif" font-size="14">10</text>
<text x="47.4" y="224.7" font-family="Liberation Sans, Arial, sans-serif" font-size="8.2">-4</text>
<text transform="translate(33.3 296.6) scale(0.87 1)" font-family="Liberation Sans, Arial, sans-serif" font-size="14">10</text>
<text x="47.4" y="289.2" font-family="Liberation Sans, Arial, sans-serif" font-size="8.2">-5</text>
<text transform="translate(33.3 361.1) scale(0.87 1)" font-family="Liberation Sans, Arial, sans-serif" font-size="14">10</text>
<text x="47.4" y="353.7" font-family="Liberation Sans, Arial, sans-serif" font-size="8.2">-6</text>
<text transform="translate(22.8 190.8) rotate(-90)" font-family="Liberation Sans, Arial, sans-serif" font-size="18.2" text-anchor="middle">BER</text>
<text y="403.5" font-family="Liberation Sans, Arial, sans-serif" font-size="16"><tspan x="264.6">E</tspan><tspan x="275.4" y="410.2" font-size="10.8">b</tspan><tspan x="280.9" y="403.5">/</tspan><tspan x="285.9">N</tspan><tspan x="297.0" y="410.2" font-size="10.8">0</tspan><tspan x="307.2" y="403.5" letter-spacing="0.6">(dB)</tspan></text>
</svg>
</body></html>
